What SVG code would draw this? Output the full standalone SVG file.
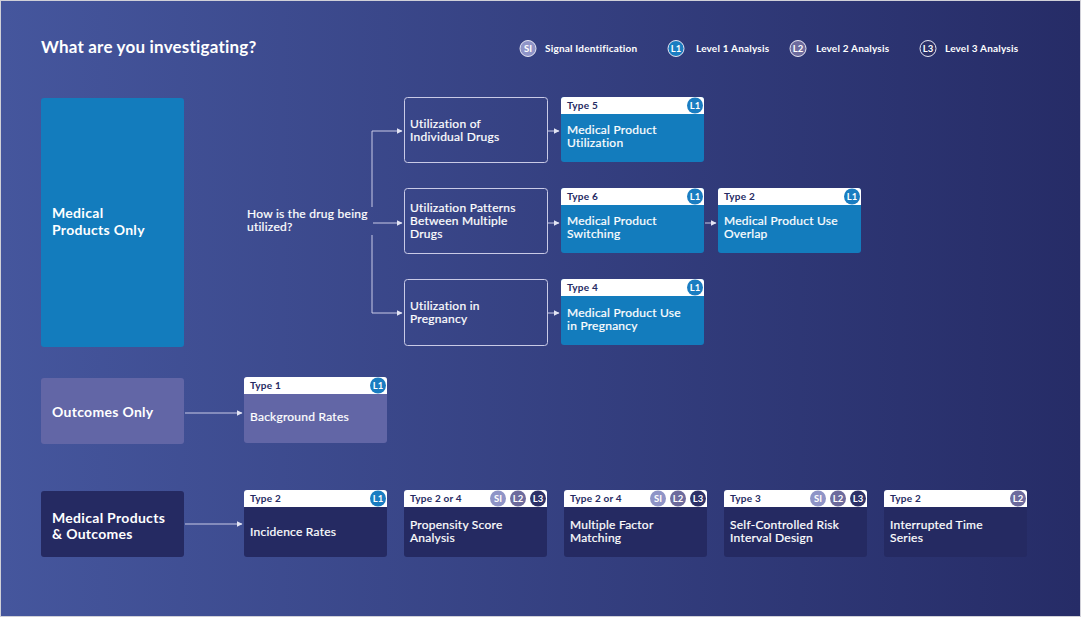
<svg xmlns="http://www.w3.org/2000/svg" width="1081" height="617" viewBox="0 0 1081 617">
<defs>
<linearGradient id="bg" x1="0" y1="0" x2="1" y2="0">
<stop offset="0" stop-color="#45569d"/>
<stop offset="1" stop-color="#262c67"/>
</linearGradient>
<marker id="arr" viewBox="0 0 6 6" refX="5.5" refY="3" markerWidth="6" markerHeight="6" markerUnits="userSpaceOnUse" orient="auto">
<path d="M0,0 L6,3 L0,6 Z" fill="#e4e5f4"/>
</marker>
</defs>
<style>
text{font-family:Lato,"Liberation Sans",sans-serif;fill:#ffffff}
.t{font-size:17px;font-weight:bold;letter-spacing:0.2px}
.big{font-size:14px;font-weight:bold;letter-spacing:0.3px}
.lg{font-size:10px;font-weight:bold;letter-spacing:0.2px}
.q,.b{font-size:12px;letter-spacing:0.25px;stroke:#ffffff;stroke-width:0.2px}
.h{font-size:10px;font-weight:bold;fill:#252a62;letter-spacing:0.2px}
.c{font-size:9.5px;font-weight:bold;text-anchor:middle}
.out{fill:none;stroke:#c9cae6;stroke-width:1}
.hd{fill:#ffffff}
.blue{fill:#137cbd}
.pur{fill:#6266a6}
.dk{fill:#252a62}
.l1{fill:#1a7dc1}
.si{fill:#8f94c7}
.l2{fill:#6d6b9d}
.l3{fill:#2d3168}
.conn{fill:none;stroke:#c9cae6;stroke-width:1}
</style>
<rect x="0.5" y="0.5" width="1080" height="616" fill="url(#bg)" stroke="#d0d0d8" stroke-width="1"/>
<text class="t" x="41" y="53">What are you investigating?</text>
<g id="legend">
<circle cx="528" cy="48.5" r="8" class="si" stroke="#e6e6f2" stroke-width="1"/><text class="c" x="528" y="51.8">SI</text>
<text class="lg" x="545" y="52">Signal Identification</text>
<circle cx="676" cy="48.5" r="8" class="l1" stroke="#e6e6f2" stroke-width="1"/><text class="c" x="676" y="51.8">L1</text>
<text class="lg" x="696" y="52">Level 1 Analysis</text>
<circle cx="798" cy="48.5" r="8" class="l2" stroke="#e6e6f2" stroke-width="1"/><text class="c" x="798" y="51.8">L2</text>
<text class="lg" x="816" y="52">Level 2 Analysis</text>
<circle cx="928" cy="48.5" r="8" class="l3" stroke="#e6e6f2" stroke-width="1"/><text class="c" x="928" y="51.8">L3</text>
<text class="lg" x="945" y="52">Level 3 Analysis</text>
</g>
<g id="connectors">
<path class="conn" d="M372,207 V131 H402" marker-end="url(#arr)"/>
<path class="conn" d="M372,235 V313 H402" marker-end="url(#arr)"/>
<path class="conn" d="M373,223 H402" marker-end="url(#arr)"/>
<path class="conn" d="M548,131 H559" marker-end="url(#arr)"/>
<path class="conn" d="M548,223 H559" marker-end="url(#arr)"/>
<path class="conn" d="M548,313 H559" marker-end="url(#arr)"/>
<path class="conn" d="M705,223 H716" marker-end="url(#arr)"/>
<path class="conn" d="M185,413 H242" marker-end="url(#arr)"/>
<path class="conn" d="M185,524 H242" marker-end="url(#arr)"/>
</g>
<g id="medical-products-only">
<rect x="41" y="98" width="143" height="249" rx="3" class="blue"/>
<text class="big" x="52" y="218">Medical</text>
<text class="big" x="52" y="235">Products Only</text>
</g>
<g id="outcomes-only">
<rect x="41" y="378" width="143" height="66" rx="3" class="pur"/>
<text class="big" x="52" y="417">Outcomes Only</text>
</g>
<g id="medical-products-outcomes">
<rect x="41" y="491" width="143" height="66" rx="3" class="dk"/>
<text class="big" x="52" y="523">Medical Products</text>
<text class="big" x="52" y="539">&amp; Outcomes</text>
</g>
<g id="question">
<text class="q" x="247" y="218">How is the drug being</text>
<text class="q" x="247" y="231">utilized?</text>
</g>
<g id="util-individual">
<rect x="404.5" y="97.5" width="143" height="65" rx="3" class="out"/>
<text class="b" x="410" y="128">Utilization of</text>
<text class="b" x="410" y="141">Individual Drugs</text>
</g>
<g id="util-multiple">
<rect x="404.5" y="188.5" width="143" height="65" rx="3" class="out"/>
<text class="b" x="410" y="212">Utilization Patterns</text>
<text class="b" x="410" y="225">Between Multiple</text>
<text class="b" x="410" y="238">Drugs</text>
</g>
<g id="util-pregnancy">
<rect x="404.5" y="279.5" width="143" height="66" rx="3" class="out"/>
<text class="b" x="410" y="310">Utilization in</text>
<text class="b" x="410" y="323">Pregnancy</text>
</g>
<g id="type5" transform="translate(561,97)">
<rect width="143" height="65" rx="3" class="blue"/>
<path d="M0,17 V3 A3,3 0 0 1 3,0 H140 A3,3 0 0 1 143,3 V17 Z" class="hd"/>
<text class="h" x="6" y="12">Type 5</text>
<circle cx="134" cy="8.5" r="8" class="l1"/><text class="c" x="134" y="11.8">L1</text>
<text class="b" x="6" y="37">Medical Product</text>
<text class="b" x="6" y="50">Utilization</text>
</g>
<g id="type6" transform="translate(561,188)">
<rect width="143" height="65" rx="3" class="blue"/>
<path d="M0,17 V3 A3,3 0 0 1 3,0 H140 A3,3 0 0 1 143,3 V17 Z" class="hd"/>
<text class="h" x="6" y="12">Type 6</text>
<circle cx="134" cy="8.5" r="8" class="l1"/><text class="c" x="134" y="11.8">L1</text>
<text class="b" x="6" y="37">Medical Product</text>
<text class="b" x="6" y="50">Switching</text>
</g>
<g id="type2-overlap" transform="translate(718,188)">
<rect width="143" height="65" rx="3" class="blue"/>
<path d="M0,17 V3 A3,3 0 0 1 3,0 H140 A3,3 0 0 1 143,3 V17 Z" class="hd"/>
<text class="h" x="6" y="12">Type 2</text>
<circle cx="134" cy="8.5" r="8" class="l1"/><text class="c" x="134" y="11.8">L1</text>
<text class="b" x="6" y="37">Medical Product Use</text>
<text class="b" x="6" y="50">Overlap</text>
</g>
<g id="type4-pregnancy" transform="translate(561,279)">
<rect width="143" height="66" rx="3" class="blue"/>
<path d="M0,17 V3 A3,3 0 0 1 3,0 H140 A3,3 0 0 1 143,3 V17 Z" class="hd"/>
<text class="h" x="6" y="12">Type 4</text>
<circle cx="134" cy="8.5" r="8" class="l1"/><text class="c" x="134" y="11.8">L1</text>
<text class="b" x="6" y="38">Medical Product Use</text>
<text class="b" x="6" y="51">in Pregnancy</text>
</g>
<g id="type1-background" transform="translate(244,377)">
<rect width="143" height="66" rx="3" class="pur"/>
<path d="M0,17 V3 A3,3 0 0 1 3,0 H140 A3,3 0 0 1 143,3 V17 Z" class="hd"/>
<text class="h" x="6" y="12">Type 1</text>
<circle cx="134" cy="8.5" r="8" class="l1"/><text class="c" x="134" y="11.8">L1</text>
<text class="b" x="6" y="44">Background Rates</text>
</g>
<g id="type2-incidence" transform="translate(244,490)">
<rect width="143" height="67" rx="3" class="dk"/>
<path d="M0,17 V3 A3,3 0 0 1 3,0 H140 A3,3 0 0 1 143,3 V17 Z" class="hd"/>
<text class="h" x="6" y="12">Type 2</text>
<circle cx="134" cy="8.5" r="8" class="l1"/><text class="c" x="134" y="11.8">L1</text>
<text class="b" x="6" y="46">Incidence Rates</text>
</g>
<g id="propensity" transform="translate(404,490)">
<rect width="143" height="67" rx="3" class="dk"/>
<path d="M0,17 V3 A3,3 0 0 1 3,0 H140 A3,3 0 0 1 143,3 V17 Z" class="hd"/>
<text class="h" x="6" y="12">Type 2 or 4</text>
<circle cx="94" cy="8.5" r="8" class="si"/><text class="c" x="94" y="11.8">SI</text>
<circle cx="114" cy="8.5" r="8" class="l2"/><text class="c" x="114" y="11.8">L2</text>
<circle cx="134" cy="8.5" r="8" class="l3"/><text class="c" x="134" y="11.8">L3</text>
<text class="b" x="6" y="39">Propensity Score</text>
<text class="b" x="6" y="52">Analysis</text>
</g>
<g id="multiple-factor" transform="translate(564,490)">
<rect width="143" height="67" rx="3" class="dk"/>
<path d="M0,17 V3 A3,3 0 0 1 3,0 H140 A3,3 0 0 1 143,3 V17 Z" class="hd"/>
<text class="h" x="6" y="12">Type 2 or 4</text>
<circle cx="94" cy="8.5" r="8" class="si"/><text class="c" x="94" y="11.8">SI</text>
<circle cx="114" cy="8.5" r="8" class="l2"/><text class="c" x="114" y="11.8">L2</text>
<circle cx="134" cy="8.5" r="8" class="l3"/><text class="c" x="134" y="11.8">L3</text>
<text class="b" x="6" y="39">Multiple Factor</text>
<text class="b" x="6" y="52">Matching</text>
</g>
<g id="scri" transform="translate(724,490)">
<rect width="143" height="67" rx="3" class="dk"/>
<path d="M0,17 V3 A3,3 0 0 1 3,0 H140 A3,3 0 0 1 143,3 V17 Z" class="hd"/>
<text class="h" x="6" y="12">Type 3</text>
<circle cx="94" cy="8.5" r="8" class="si"/><text class="c" x="94" y="11.8">SI</text>
<circle cx="114" cy="8.5" r="8" class="l2"/><text class="c" x="114" y="11.8">L2</text>
<circle cx="134" cy="8.5" r="8" class="l3"/><text class="c" x="134" y="11.8">L3</text>
<text class="b" x="6" y="39">Self-Controlled Risk</text>
<text class="b" x="6" y="52">Interval Design</text>
</g>
<g id="interrupted" transform="translate(884,490)">
<rect width="143" height="67" rx="3" class="dk"/>
<path d="M0,17 V3 A3,3 0 0 1 3,0 H140 A3,3 0 0 1 143,3 V17 Z" class="hd"/>
<text class="h" x="6" y="12">Type 2</text>
<circle cx="134" cy="8.5" r="8" class="l2"/><text class="c" x="134" y="11.8">L2</text>
<text class="b" x="6" y="39">Interrupted Time</text>
<text class="b" x="6" y="52">Series</text>
</g>
</svg>
